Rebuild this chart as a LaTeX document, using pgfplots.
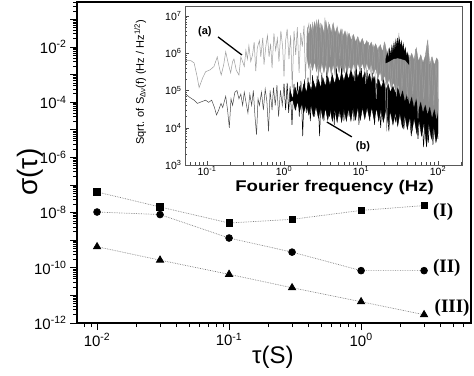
\documentclass[border=0pt]{standalone}
\usepackage{fontspec}
\setmainfont{Liberation Sans}
\newfontfamily\tnr{Liberation Serif}
\newfontfamily\widesans[FakeStretch=1.2]{Liberation Sans}
\usepackage{pgfplots}
\pgfplotsset{compat=1.18}
\definecolor{specgray}{gray}{0.55}
\definecolor{lowb}{gray}{0.3}
\begin{document}
\begin{tikzpicture}[x=1pt,y=1pt]
\useasboundingbox (0,0) rectangle (474,375);
% ---------------- main axis ----------------
\begin{axis}[at={(77pt,52pt)}, anchor=south west, scale only axis,
  width=394pt, height=321pt,
  xmode=log, ymode=log,
  xmin=0.00705, xmax=6.8, ymin=1e-12, ymax=0.427,
  axis line style={line width=1.3pt},
  tick align=outside, tick pos=left,
  major tick length=7pt, minor tick length=4pt,
  every tick/.style={black, line width=0.8pt},
  xtickten={-2,-1,0},
  xticklabels={10\textsuperscript{-2},10\textsuperscript{-1},10\textsuperscript{0}},
  minor xtick={0.008,0.009,0.02,0.03,0.04,0.05,0.06,0.07,0.08,0.09,0.2,0.3,0.4,0.5,0.6,0.7,0.8,0.9,2,3,4,5,6},
  ytickten={-12,-11,-10,-9,-8,-7,-6,-5,-4,-3,-2,-1},
  yticklabels={10\textsuperscript{-12},{},10\textsuperscript{-10},{},10\textsuperscript{-8},{},10\textsuperscript{-6},{},10\textsuperscript{-4},{},10\textsuperscript{-2},{}},
  minor ytick={2e-12,3e-12,4e-12,5e-12,6e-12,7e-12,8e-12,9e-12,
    2e-11,3e-11,4e-11,5e-11,6e-11,7e-11,8e-11,9e-11,
    2e-10,3e-10,4e-10,5e-10,6e-10,7e-10,8e-10,9e-10,
    2e-9,3e-9,4e-9,5e-9,6e-9,7e-9,8e-9,9e-9,
    2e-8,3e-8,4e-8,5e-8,6e-8,7e-8,8e-8,9e-8,
    2e-7,3e-7,4e-7,5e-7,6e-7,7e-7,8e-7,9e-7,
    2e-6,3e-6,4e-6,5e-6,6e-6,7e-6,8e-6,9e-6,
    2e-5,3e-5,4e-5,5e-5,6e-5,7e-5,8e-5,9e-5,
    2e-4,3e-4,4e-4,5e-4,6e-4,7e-4,8e-4,9e-4,
    2e-3,3e-3,4e-3,5e-3,6e-3,7e-3,8e-3,9e-3,
    2e-2,3e-2,4e-2,5e-2,6e-2,7e-2,8e-2,9e-2,
    2e-1,3e-1,4e-1},
  tick label style={font=\fontsize{15}{17}\selectfont},
  xlabel={τ(S)}, ylabel={σ(τ)},
  every axis x label/.style={at={(axis description cs:0.497,-0.106)}, anchor=center, font=\fontsize{24}{26}\selectfont},
  every axis y label/.style={at={(axis description cs:-0.119,0.47)}, anchor=center, rotate=90, font=\fontsize{28}{30}\selectfont},
  clip=false,
]
\addplot[densely dotted, gray, line width=0.7pt, mark=square*, mark size=3.2pt, mark options={solid, black, fill=black}]
 coordinates {(0.01,5.6e-8) (0.03,1.6e-8) (0.1,4.2e-9) (0.3,5.7e-9) (1,1.2e-8) (3,1.8e-8)};
\addplot[densely dotted, gray, line width=0.7pt, mark=*, mark size=3.4pt, mark options={solid, black, fill=black}]
 coordinates {(0.01,1.05e-8) (0.03,8.5e-9) (0.1,1.2e-9) (0.3,3.7e-10) (1,7.9e-11) (3,7.9e-11)};
\addplot[densely dotted, gray, line width=0.7pt, mark=triangle*, mark size=4.2pt, mark options={solid, black, fill=black}]
 coordinates {(0.01,5.8e-10) (0.03,1.9e-10) (0.1,5.8e-11) (0.3,1.9e-11) (1,5.9e-12) (3,2e-12)};
\node[anchor=west, inner sep=0pt, font=\tnr\bfseries\fontsize{19}{21}\selectfont] at (axis cs:3.5,1.05e-8) {(I)};
\node[anchor=west, inner sep=0pt, font=\tnr\bfseries\fontsize{19}{21}\selectfont] at (axis cs:3.5,1e-10) {(II)};
\node[anchor=west, inner sep=0pt, font=\tnr\bfseries\fontsize{19}{21}\selectfont] at (axis cs:3.6,3.5e-12) {(III)};
\end{axis}
% ---------------- inset ----------------
\begin{axis}[at={(185pt,210pt)}, anchor=south west, scale only axis,
  width=277pt, height=159pt,
  xmode=log, ymode=log,
  xmin=0.0518, xmax=205, ymin=1e3, ymax=1.86e7,
  axis background/.style={fill=white},
  axis line style={gray!70!black, line width=0.6pt},
  tick align=inside, tick pos=left,
  major tick length=4pt, minor tick length=2.5pt,
  every tick/.style={gray!60!black, line width=0.5pt},
  xtickten={-1,0,1,2},
  xticklabels={10\textsuperscript{-1},10\textsuperscript{0},10\textsuperscript{1},10\textsuperscript{2}},
  minor xtick={0.06,0.07,0.08,0.09,0.2,0.3,0.4,0.5,0.6,0.7,0.8,0.9,2,3,4,5,6,7,8,9,20,30,40,50,60,70,80,90,200},
  ytickten={3,4,5,6,7},
  yticklabels={10\textsuperscript{3},10\textsuperscript{4},10\textsuperscript{5},10\textsuperscript{6},10\textsuperscript{7}},
  minor ytick={2e3,3e3,4e3,5e3,6e3,7e3,8e3,9e3,2e4,3e4,4e4,5e4,6e4,7e4,8e4,9e4,2e5,3e5,4e5,5e5,6e5,7e5,8e5,9e5,2e6,3e6,4e6,5e6,6e6,7e6,8e6,9e6},
  tick label style={font=\fontsize{10.5}{12}\selectfont},
  xticklabel style={inner sep=1pt},
  xlabel={Fourier frequency (Hz)},
  ylabel={Sqrt. of S\textsubscript{Δν}(f) (Hz / Hz\textsuperscript{1/2})},
  every axis x label/.style={at={(axis description cs:0.54,-0.14)}, anchor=center, font=\widesans\bfseries\fontsize{15.5}{18}\selectfont},
  every axis y label/.style={at={(axis description cs:-0.162,0.52)}, anchor=center, rotate=90, font=\fontsize{11}{13}\selectfont},
  clip=true,
]
% (b) dense band
\addplot[fill=black, draw=black, line width=0.3pt] coordinates {
(1.2,1e5) (1.3,6e4) (1.4,1.2e5) (1.5,7e4) (1.6,1.3e5) (1.7,8e4) (1.8,1.5e5) (1.95,9e4) (2.1,1.7e5) (2.25,1e5) (2.4,1.8e5) (2.6,1.1e5) (2.8,2e5) (3.0,1.2e5) (3.2,2.2e5) (3.45,1.3e5) (3.7,2.4e5) (3.95,1.4e5) (4.25,2.6e5) (4.55,1.5e5) (4.9,2.8e5) (5.25,1.7e5) (5.6,3e5) (6,1.8e5) (6.45,3.3e5) (6.9,2e5) (7.4,3.6e5) (7.9,2.1e5) (8.5,3.8e5) (9.1,2.2e5) (9.8,3.6e5) (10.5,2e5) (11.2,3.2e5) (12,1.8e5) (12.9,2.8e5) (13.8,1.6e5) (14.8,2.4e5) (15.9,1.4e5) (17,2e5) (18.2,1.2e5) (19.5,1.7e5) (21,1e5) (22.5,1.5e5) (24,9e4) (26,1.3e5) (28,8.5e4) (30,1.2e5) (32,8e4) (34.5,1.1e5) (37,7.5e4) (40,1e5) (43,7e4) (46,9.5e4) (49,6.5e4) (53,9e4) (57,6e4) (61,8.5e4) (66,5.5e4) (71,8e4) (76,5e4) (82,7.5e4) (88,4.5e4) (94,7e4) (100,6e4)
(100,7e3) (94,4e3) (88,1.1e4) (82,5e3) (76,1.3e4) (71,3e3) (66,1.4e4) (61,6e3) (57,1.6e4) (53,7e3) (49,1.8e4) (46,8e3) (43,2e4) (40,9e3) (37,2.2e4) (34.5,1e4) (32,2.4e4) (30,1.1e4) (28,2.6e4) (26,1.2e4) (24,2.8e4) (22.5,1.3e4) (21,3e4) (19.5,1.4e4) (18.2,3.2e4) (17,1.5e4) (15.9,3.4e4) (14.8,1.6e4) (13.8,3.5e4) (12.9,1.7e4) (12,3.5e4) (11.2,1.7e4) (10.5,3.5e4) (9.8,1.6e4) (9.1,3.5e4) (8.5,1.6e4) (7.9,3.5e4) (7.4,1.5e4) (6.9,3.4e4) (6.45,1.5e4) (6,3.3e4) (5.6,1.4e4) (5.25,3.2e4) (4.9,1.4e4) (4.55,3.2e4) (4.25,1.5e4) (3.95,3.2e4) (3.7,1.6e4) (3.45,3.3e4) (3.2,1.7e4) (3.0,3.5e4) (2.8,1.8e4) (2.6,3.7e4) (2.4,2e4) (2.25,4e4) (2.1,2.2e4) (1.95,4.3e4) (1.8,2.5e4) (1.7,4.6e4) (1.6,2.8e4) (1.5,5e4) (1.4,3e4) (1.3,5.5e4) (1.2,5e4) (1.2,1e5)};
% (b) jagged trace
\addplot[lowb, line width=0.5pt] coordinates {
(0.053,8e4) (0.06,6.5e4) (0.068,5.5e4) (0.075,4.5e4) (0.085,5e4) (0.096,5.5e4) (0.105,4.8e4) (0.115,5.5e4) (0.125,3.5e4) (0.133,2.2e4) (0.142,3e4) (0.152,4.5e4) (0.16,3.5e4) (0.175,7e4) (0.185,3e4) (0.195,1e4) (0.205,6e4) (0.215,4e4) (0.23,9e4) (0.245,1e5) (0.26,6e4) (0.275,8e4) (0.29,4e4) (0.305,9e4) (0.32,5e4) (0.34,2.5e4) (0.36,8e4) (0.38,4e4) (0.40,1e5) (0.42,2e4) (0.44,6.5e3) (0.46,6e4) (0.48,4e4) (0.51,9e4) (0.54,3e4) (0.57,1.1e5) (0.60,5e4) (0.63,8e3) (0.66,1e5) (0.70,3e4) (0.73,1.2e5) (0.77,4e4) (0.81,1.4e5) (0.85,2e4) (0.9,1e5) (0.95,4e4) (1.0,1.5e5)};
\addplot[black, line width=0.5pt] coordinates {
(1.0,1.5e5) (1.05,3e4) (1.1,1.6e5) (1.15,2.5e4) (1.2,1.3e5) (1.27,1.2e4) (1.35,1.5e5) (1.42,3e4) (1.5,1.7e5) (1.58,2e4) (1.66,1.8e5) (1.75,6e3) (1.85,2e5) (1.95,2.5e4) (2.05,2.2e5) (2.2,1.5e4) (2.35,2.6e5) (2.5,2e4) (2.7,2.5e5) (2.9,6e3) (3.1,3e5) (3.3,1.5e4) (3.6,3.5e5) (3.9,2e4) (4.2,3e5) (4.5,1.2e4) (4.8,4e5) (5.2,2e4) (5.6,4.5e5) (6,1.5e4) (6.5,4e5) (7,2e4) (7.5,5e5) (8.1,1.5e4) (8.7,4.5e5) (9.4,1.2e4) (10.1,4e5) (11,2e4) (12,3.5e5) (13,1.5e4) (14,3e5) (15,1.2e4) (16.5,2.5e5) (18,1e4) (19.5,2e5) (21,1e5) (23,8e3) (25,1.2e5) (28,1.5e4) (32,1e5) (36,9e3) (40,9e4) (45,6e3) (50,8e4) (55,5e3) (60,7e4) (65,3e3) (70,6e4) (75,4e3) (80,5e4) (86,3.5e3) (92,5e4) (100,5e3)};
% (a) dense band
\addplot[fill=specgray, draw=specgray, line width=0.3pt] coordinates {
(2.0,5e6) (2.1,3e6) (2.2,6e6) (2.35,3.5e6) (2.5,7e6) (2.65,4e6) (2.8,8e6) (2.95,4e6) (3.1,6e6) (3.3,3.5e6) (3.5,7.5e6) (3.7,4e6) (3.9,6e6) (4.1,3.5e6) (4.35,6.5e6) (4.6,3.5e6) (4.9,5e6) (5.2,3e6) (5.5,4.5e6) (5.8,2.8e6) (6.2,4e6) (6.6,2.5e6) (7,3.5e6) (7.5,2.2e6) (8,3.2e6) (8.5,2e6) (9.1,2.8e6) (9.7,1.8e6) (10.4,2.5e6) (11.1,1.6e6) (11.9,2.2e6) (12.7,1.5e6) (13.6,2e6) (14.5,1.3e6) (15.5,1.8e6) (16.6,1.2e6) (17.8,1.7e6) (19,1.1e6) (20.3,2e6) (21.7,1e6) (23.2,1.4e6) (24.8,9e5) (26.5,1.3e6) (28.4,8.5e5) (30.4,1.2e6) (32.5,8e5) (34.8,1.6e6) (37.2,7.5e5) (39.8,1.1e6) (42.6,7e5) (45.6,1e6) (48.8,6.5e5) (52.2,1.4e6) (55.8,6e5) (59.7,9e5) (63.9,5.5e5) (68.4,8.5e5) (73.2,2.2e6) (78.3,5e5) (83.8,8e5) (89.6,4.8e5) (95.9,7.5e5) (100,6.5e5)
(100,3e4) (95.9,1.8e4) (89.6,3.5e4) (83.8,2e4) (78.3,4e4) (73.2,2.5e4) (68.4,4.5e4) (63.9,2.8e4) (59.7,5.5e4) (55.8,3.2e4) (52.2,6.5e4) (48.8,3.8e4) (45.6,7.5e4) (42.6,4.5e4) (39.8,9e4) (37.2,5.5e4) (34.8,1.1e5) (32.5,7e4) (30.4,1.4e5) (28.4,9e4) (26.5,1.7e5) (24.8,1.1e5) (23.2,2.1e5) (21.7,1.4e5) (20.3,2.6e5) (19,1.7e5) (17.8,3.2e5) (16.6,2.2e5) (15.5,4e5) (14.5,2.8e5) (13.6,5e5) (12.7,3.5e5) (11.9,5.5e5) (11.1,3.5e5) (10.4,5.5e5) (9.7,3.5e5) (9.1,5.5e5) (8.5,3.5e5) (8,5.5e5) (7.5,3.2e5) (7,5e5) (6.6,3e5) (6.2,5e5) (5.8,3e5) (5.5,5e5) (5.2,3e5) (4.9,5e5) (4.6,2.8e5) (4.35,5e5) (4.1,2.8e5) (3.9,5e5) (3.7,2.8e5) (3.5,5e5) (3.3,3e5) (3.1,5.5e5) (2.95,3e5) (2.8,5.5e5) (2.65,3.2e5) (2.5,6e5) (2.35,3.5e5) (2.2,6e5) (2.1,4e5) (2.0,7e5) (2.0,5e6)};
% (a) jagged trace
\addplot[specgray!85!white, line width=0.5pt] coordinates {
(0.053,6.3e5) (0.062,6.3e5) (0.068,5.5e5) (0.074,2.5e5) (0.079,1.2e5) (0.088,2.2e5) (0.096,3.2e5) (0.11,3.6e5) (0.123,4.4e5) (0.136,8e5) (0.145,4e5) (0.153,2.6e5) (0.165,5e5) (0.175,1.1e6) (0.19,5e5) (0.203,3e5) (0.215,6e5) (0.224,7e5) (0.24,3.5e5) (0.26,2.6e5) (0.275,8e5) (0.29,6e5) (0.305,4.4e5) (0.32,1.2e6) (0.335,7e5) (0.35,1.6e6) (0.37,6e5) (0.39,9e5) (0.41,2e6) (0.43,3.3e5) (0.45,1.4e6) (0.48,2.2e6) (0.50,8e5) (0.53,2.6e6) (0.55,5e5) (0.58,1.5e6) (0.61,3e6) (0.64,8e5) (0.67,1.8e6) (0.70,4e5) (0.74,3.4e6) (0.78,1.2e6) (0.82,2.5e6) (0.86,6e5) (0.91,4e6) (0.96,1.5e6) (1.0,2.4e5) (1.05,2.2e6) (1.1,4.5e6) (1.16,7e5) (1.22,3e6) (1.28,1.2e5) (1.35,4e6) (1.42,9e5) (1.49,5e6) (1.57,3e5) (1.65,3.5e6) (1.73,1.5e6) (1.82,5.5e6) (1.9,2e5) (2.0,4e6)
(2.1,6e6) (2.2,1.5e5) (2.35,7e6) (2.5,6e5) (2.65,8e6) (2.8,2e5) (3.0,6.5e6) (3.2,5e5) (3.4,9e6) (3.6,3e5) (3.8,7e6) (4.0,8e5) (4.3,6e6) (4.6,2.5e5) (4.9,5.5e6) (5.3,7e5) (5.7,4.5e6) (6.1,3e5) (6.6,3.8e6) (7.1,4e5) (7.7,3e6) (8.3,1.8e5) (9,2.6e6) (9.8,3e5) (10.6,2.2e6) (11.5,1.5e5) (12.5,2e6) (13.5,2.5e5) (14.6,1.7e6) (15.8,6e4) (17,1.5e6) (18.5,1.8e5) (20,1.9e6) (21.5,8e3) (23,1.2e6) (25,1.2e5) (27,1.3e6) (29,7e4) (31,3.5e6) (34,1e5) (37,1.2e6) (40,6e4) (43,9e5) (47,8e4) (51,1.3e6) (55,1.8e4) (60,9e5) (65,6e4) (70,7e5) (74,2.3e6) (76,5e4) (82,8e5) (88,4e4) (94,6e5) (100,5e4) (100,6e5)};
% black resonance near 30 Hz
\addplot[fill=black, draw=black, line width=0.4pt] coordinates {
(21,7e5) (22,1e6) (22.8,7e5) (23.6,1.3e6) (24.4,8e5) (25.2,1.6e6) (26,1e6) (26.8,1.9e6) (27.6,1.2e6) (28.4,2.3e6) (29.2,1.4e6) (30,2.6e6) (30.8,1.5e6) (31.6,2.4e6) (32.5,1.4e6) (33.4,2.1e6) (34.4,1.2e6) (35.4,1.8e6) (36.5,1e6) (37.6,1.4e6) (39,8e5) (40.5,1e6) (42,6e5)
(42,5e5) (38,6.5e5) (34,7e5) (30,7.5e5) (26,7e5) (23,6e5) (21,5.5e5) (21,7e5)};
% annotations
\node[font=\bfseries\fontsize{11}{13}\selectfont, inner sep=0pt] at (axis cs:0.094,3.7e6) {(a)};
\draw[black, line width=1.3pt] (axis cs:0.139,2.75e6) -- (axis cs:0.284,9e5);
\node[font=\bfseries\fontsize{11}{13}\selectfont, inner sep=0pt] at (axis cs:10.6,3.05e3) {(b)};
\draw[black, line width=1.3pt] (axis cs:3.6,1.43e4) -- (axis cs:7.6,5.7e3);
\end{axis}
\end{tikzpicture}
\end{document}
